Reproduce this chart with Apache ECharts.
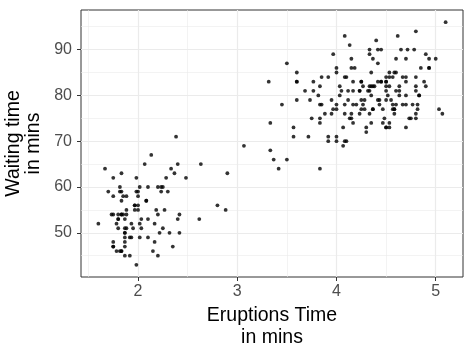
<!DOCTYPE html>
<html>
<head>
<meta charset="utf-8">
<script src="https://cdn.jsdelivr.net/npm/echarts@6/dist/echarts.min.js"></script>
<style>
  html, body { margin: 0; padding: 0; background: #fff; }
  #chart { width: 474px; height: 355px; }
</style>
</head>
<body>
<div id="chart"></div>
<script>
// Old Faithful: eruption time (mins) and waiting time (mins)
var eruptions = [3.600,1.800,3.333,2.283,4.533,2.883,4.700,3.600,1.950,4.350,1.833,3.917,4.200,1.750,4.700,2.167,1.750,4.800,1.600,4.250,
  1.800,1.750,3.450,3.067,4.533,3.600,1.967,4.083,3.850,4.433,4.300,4.467,3.367,4.033,3.833,2.017,1.867,4.833,1.833,4.783,
  4.350,1.883,4.567,1.750,4.533,3.317,3.833,2.100,4.633,2.000,4.800,4.716,1.833,4.833,1.733,4.883,3.717,1.667,4.567,4.317,
  2.233,4.500,1.750,4.800,1.817,4.400,4.167,4.700,2.067,4.700,4.033,1.967,4.500,4.000,1.983,5.067,2.017,4.567,3.883,3.600,
  4.133,4.333,4.100,2.633,4.067,4.933,3.950,4.517,2.167,4.000,2.200,4.333,1.867,4.817,1.833,4.300,4.667,3.750,1.867,4.900,
  2.483,4.367,2.100,4.500,4.050,1.867,4.700,1.783,4.850,3.683,4.733,2.300,4.900,4.417,1.700,4.633,2.317,4.600,1.817,4.417,
  2.617,4.067,4.250,1.967,4.600,3.767,1.917,4.500,2.267,4.650,1.867,4.167,2.800,4.333,1.833,4.383,1.883,4.933,2.033,3.733,
  4.233,2.233,4.533,4.817,4.333,1.983,4.633,2.017,5.100,1.800,5.033,4.000,2.400,4.600,3.567,4.000,4.500,4.083,1.800,3.967,
  2.200,4.150,2.000,3.833,3.500,4.583,2.367,5.000,1.933,4.617,1.917,2.083,4.583,3.333,4.167,4.333,4.500,2.417,4.000,4.167,
  1.883,4.583,4.250,3.767,2.033,4.433,4.083,1.833,4.417,2.183,4.800,1.833,4.800,4.100,3.966,4.233,3.500,4.366,2.250,4.667,
  2.100,4.350,4.133,1.867,4.600,1.783,4.367,3.850,1.933,4.500,2.383,4.700,1.867,3.833,3.417,4.233,2.400,4.800,2.000,4.150,
  1.867,4.267,1.750,4.483,4.000,4.117,4.083,4.267,3.917,4.550,4.083,2.417,4.183,2.217,4.450,1.883,1.850,4.283,3.950,2.333,
  4.150,2.350,4.933,2.900,4.583,3.833,2.083,4.367,2.133,4.350,2.200,4.450,3.567,4.500,4.150,3.817,3.917,4.450,2.000,4.283,
  4.767,4.533,1.850,4.250,1.983,2.250,4.750,4.117,2.150,4.417,1.817,4.467];
var waiting = [79,54,74,62,85,55,88,85,51,85,54,84,78,47,83,52,62,84,52,79,
  51,47,78,69,74,83,55,76,78,79,73,77,66,80,74,52,48,80,59,90,
  80,58,84,58,73,83,64,53,82,59,75,90,54,80,54,83,71,64,77,81,
  59,84,48,82,60,92,78,78,65,73,82,56,79,71,62,76,60,78,76,83,
  75,82,70,65,73,88,76,80,48,86,60,90,50,78,63,72,84,75,51,82,
  62,88,49,83,81,47,84,52,86,81,75,59,89,79,59,81,50,85,59,87,
  53,69,77,56,88,81,45,82,55,90,45,83,56,89,46,82,51,86,53,79,
  81,60,82,77,76,59,80,49,96,53,77,77,65,81,71,70,81,93,53,89,
  45,86,58,78,66,76,63,88,52,93,49,57,77,68,81,81,73,50,85,74,
  55,77,83,83,51,78,84,46,83,55,81,57,76,84,77,81,87,77,51,78,
  60,82,91,53,78,46,77,84,49,83,71,80,49,75,64,76,53,94,55,76,
  50,82,54,75,78,79,78,78,70,79,70,54,86,50,90,54,54,77,79,64,
  75,47,86,63,85,82,57,82,67,74,54,83,73,73,88,80,71,83,56,79,
  78,84,58,83,43,60,75,81,46,90,46,74];

var xTicks = [2, 3, 4, 5];
var xMinor = [1.5, 2.5, 3.5, 4.5];
var yTicks = [50, 60, 70, 80, 90];
var yMinor = [45, 55, 65, 75, 85, 95];

var points = eruptions.map(function (e, i) { return [e, waiting[i]]; });

var font = 'Liberation Sans, Arial, sans-serif';

function gridLines(vals, key, w) {
    return vals.map(function (v) { var o = {}; o[key] = v; o.lineStyle = { width: w }; return o; });
}

var chart = echarts.init(document.getElementById('chart'));
chart.setOption({
    animation: false,
    backgroundColor: '#fff',
    grid: {
        left: 81, right: 11, top: 10, bottom: 78, outerBoundsMode: 'none', containLabel: false,
        show: true, borderColor: '#333', borderWidth: 1, backgroundColor: '#fff'
    },
    xAxis: {
        type: 'value', min: 1.425, max: 5.275,
        name: 'Eruptions Time\nin mins', nameLocation: 'middle', nameGap: 27,
        nameTextStyle: { color: '#000', fontSize: 19.5, fontFamily: font, lineHeight: 22 },
        axisLine: { show: false },
        axisTick: { show: true, length: 4, customValues: xTicks, lineStyle: { color: '#333', width: 1 } },
        axisLabel: { customValues: xTicks, color: '#4d4d4d', fontSize: 16, fontFamily: font, margin: 7 },
        splitLine: { show: false }
    },
    yAxis: {
        type: 'value', min: 40.35, max: 98.65,
        name: 'Waiting time\nin mins', nameLocation: 'middle', nameGap: 29, nameRotate: 90,
        nameTextStyle: { color: '#000', fontSize: 19.5, fontFamily: font, lineHeight: 20 },
        axisLine: { show: false },
        axisTick: { show: true, length: 4, customValues: yTicks, lineStyle: { color: '#333', width: 1 } },
        axisLabel: { customValues: yTicks, color: '#4d4d4d', fontSize: 16, fontFamily: font, margin: 9 },
        splitLine: { show: false }
    },
    series: [
        {
            type: 'line', data: [], silent: true, z: 1,
            markLine: {
                silent: true, symbol: 'none', label: { show: false }, z: 1, zlevel: 0,
                lineStyle: { color: '#ebebeb', type: 'solid' },
                data: gridLines(xMinor, 'xAxis', 0.6).concat(gridLines(yMinor, 'yAxis', 0.6))
                    .concat(gridLines(xTicks, 'xAxis', 1.2)).concat(gridLines(yTicks, 'yAxis', 1.2))
            }
        },
        {
            type: 'scatter', data: points, z: 5,
            symbol: 'circle', symbolSize: 3.8,
            itemStyle: { color: '#000' }
        }
    ]
});
</script>
</body>
</html>
